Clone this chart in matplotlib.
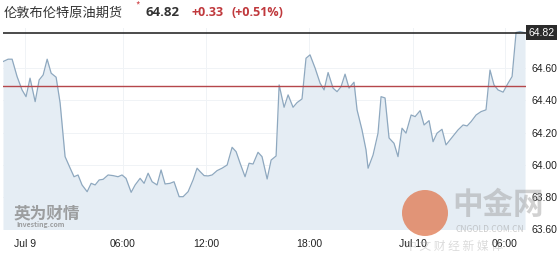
import matplotlib.pyplot as plt
from matplotlib.patches import Ellipse

plt.rcParams['font.family'] = ['Noto Sans CJK SC', 'DejaVu Sans']

# hours since Jul 9 00:00
hours = [-1.38, -1.06, -0.81, -0.5, -0.19, 0.06, 0.31, 0.63, 0.88, 1.13, 1.38, 1.63,
         1.94, 2.19, 2.5, 2.81, 3.06, 3.31, 3.56, 3.88, 4.13, 4.38, 4.63, 4.88,
         5.19, 5.5, 5.81, 6.06, 6.31, 6.63, 6.88, 7.19, 7.44, 7.69, 7.94, 8.25,
         8.5, 8.75, 9.06, 9.31, 9.63, 9.88, 10.19, 10.5, 10.75, 10.94, 11.19, 11.44,
         11.69, 12.0, 12.31, 12.63, 12.94, 13.19, 13.44, 13.75, 14.0, 14.25, 14.56,
         14.81, 15.13, 15.38, 15.69, 15.88, 16.19, 16.44, 16.75, 17.0, 17.31, 17.56,
         17.81, 18.13, 18.44, 18.69, 18.94, 19.25, 19.5, 19.75, 20.0, 20.25, 20.56,
         20.75, 21.06, 21.31, 21.44, 21.75, 22.06, 22.25, 22.5, 22.75, 23.06, 23.31,
         23.56, 23.81, 24.13, 24.38, 24.69, 24.94, 25.25, 25.5, 25.75, 26.06, 26.31,
         26.56, 26.81, 27.06, 27.38, 27.63, 27.88, 28.19, 28.5, 28.81, 29.06, 29.31,
         29.56, 29.88, 30.19, 30.44, 30.69, 30.94, 31.25]
price = [64.641, 64.656, 64.656, 64.548, 64.465, 64.423, 64.538, 64.392, 64.527, 64.558,
         64.656, 64.569, 64.544, 64.384, 64.050, 63.980, 63.925, 63.936, 63.874, 63.832,
         63.884, 63.874, 63.905, 63.909, 63.936, 63.932, 63.925, 63.936, 63.915, 63.828,
         63.874, 63.915, 63.884, 63.947, 63.894, 63.874, 63.967, 63.880, 63.884, 63.894,
         63.801, 63.801, 63.832, 63.905, 63.978, 63.957, 63.932, 63.930, 63.936, 63.963,
         63.978, 63.998, 64.108, 64.081, 64.009, 63.925, 64.009, 64.004, 64.077, 64.050,
         63.911, 64.029, 64.054, 64.496, 64.357, 64.434, 64.357, 64.386, 64.409, 64.662,
         64.683, 64.600, 64.507, 64.465, 64.573, 64.476, 64.454, 64.485, 64.563, 64.476,
         64.513, 64.341, 64.216, 64.092, 63.978, 64.060, 64.196, 64.423, 64.415, 64.166,
         64.133, 64.050, 64.227, 64.196, 64.309, 64.299, 64.336, 64.247, 64.274, 64.143,
         64.196, 64.220, 64.123, 64.154, 64.185, 64.216, 64.247, 64.241, 64.268, 64.309,
         64.330, 64.341, 64.589, 64.496, 64.465, 64.451, 64.507, 64.548, 64.822, 64.828,
         64.82]

last_price = 64.82
prev_close = 64.49
change = "+0.33"
change_pct = "(+0.51%)"
title = "伦敦布伦特原油期货"

y_ticks = [63.60, 63.80, 64.00, 64.20, 64.40, 64.60]
x_tick_pos = [0, 6.1, 11.3, 17.75, 24.25, 30]
x_tick_labels = ["Jul 9", "06:00", "12:00", "18:00", "Jul 10", "06:00"]

fig = plt.figure(figsize=(5.59, 2.62), dpi=100)
W, H = 559, 262
ax = fig.add_axes([3 / W, 33 / H, 523 / W, 201 / H])

ax.fill_between(hours, price, 63.5, color="#e5edf4", lw=0)
ax.plot(hours, price, color="#8ea8bf", lw=0.9)
ax.axhline(prev_close, color="#b5474b", lw=1.0)
ax.axhline(last_price, color="#1a1a1a", lw=1.1)

ax.set_xlim(-1.38, 31.31)
ax.set_ylim(63.6, 64.85)
for s in ax.spines.values():
    s.set_visible(False)

ax.set_yticks(y_ticks)
ax.set_yticklabels(["%.2f" % v for v in y_ticks], family="Liberation Sans")
ax.yaxis.tick_right()
ax.set_xticks(x_tick_pos)
ax.set_xticklabels(x_tick_labels, family="Liberation Sans")
ax.tick_params(length=0, labelsize=7.5, colors="#222222", pad=7)
ax.tick_params(axis="y", pad=4)
ax.grid(True, color="#f0f3f6", lw=0.7)
ax.set_axisbelow(True)

ax.text(1.005, last_price, "%.2f" % last_price, transform=ax.get_yaxis_transform(),
        va="center", ha="left", fontsize=7.5, color="white", family="Liberation Sans",
        bbox=dict(boxstyle="square,pad=0.25", fc="#2b2b2b", ec="none"))

# header
fig.text(4 / W, 1 - 13 / H, title, fontsize=9.5, color="#333333", va="center")
fig.text(135 / W, 1 - 6 / H, "*", fontsize=7, color="#d0484c", va="center")
fig.text(146 / W, 1 - 13 / H, "%.2f" % last_price, fontsize=9.5, color="#333333",
         va="center", weight="bold", family="Open Sans")
fig.text(192 / W, 1 - 13 / H, change, fontsize=9, color="#c0393d", va="center",
         weight="bold", family="Open Sans")
fig.text(231 / W, 1 - 13 / H, change_pct, fontsize=9, color="#c0393d", va="center",
         weight="bold", family="Open Sans")

# watermarks
fig.text(14 / W, 1 - 213 / H, "英为财情", fontsize=12, color="#8a8a8a", va="center",
         weight="bold", alpha=0.8)
fig.text(16 / W, 1 - 225 / H, "Investing.com", fontsize=5, color="#8a8a8a",
         va="center", weight="bold", alpha=0.8)
fig.patches.append(Ellipse((425 / W, 1 - 213 / H), 46 / W, 46 / H,
                           transform=fig.transFigure, fc="#e0774d", ec="none",
                           alpha=0.75))
fig.text(452 / W, 1 - 205 / H, "中金网", fontsize=22, color="#9a9a9a", va="center",
         weight="bold", alpha=0.45)
fig.text(455 / W, 1 - 229 / H, "CNGOLD.COM.CN", fontsize=6, color="#9a9a9a",
         va="center", alpha=0.5)
fig.text(405 / W, 1 - 246 / H, "中 文 财 经 新 媒 体", fontsize=8.5, color="#9a9a9a",
         va="center", alpha=0.35)

fig.savefig("out.png", dpi=100)
